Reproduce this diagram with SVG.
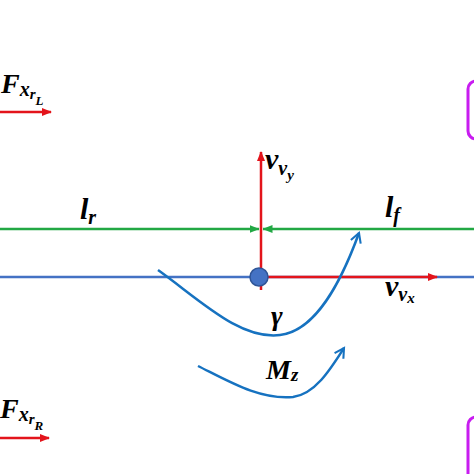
<svg xmlns="http://www.w3.org/2000/svg" width="474" height="474" viewBox="0 0 474 474">
<style>
.t{font-family:"Liberation Serif","DejaVu Serif",serif;font-weight:bold;font-style:italic;fill:#000}
.red{stroke:#e3141b;stroke-width:2.5;fill:none}
.grn{stroke:#22a844;stroke-width:2.5;fill:none}
.blu{stroke:#4472c4;stroke-width:2.5;fill:none}
.cur{stroke:#1672c0;stroke-width:2.5;fill:none}
.box{stroke:#c81cf0;stroke-width:3;fill:#fff}
</style>
<defs>
<marker id="ar" viewBox="0 0 10 10" refX="9" refY="5" markerWidth="4" markerHeight="4" orient="auto" markerUnits="strokeWidth"><path d="M0,1 L10,5 L0,9 Z" fill="#e3141b"/></marker>
<marker id="ag" viewBox="0 0 10 10" refX="9.5" refY="5" markerWidth="4" markerHeight="4" orient="auto" markerUnits="strokeWidth"><path d="M0,1 L10,5 L0,9 Z" fill="#22a844"/></marker>
<marker id="ac" viewBox="0 0 12 12" refX="10" refY="6" markerWidth="5" markerHeight="5" orient="auto" markerUnits="strokeWidth"><path d="M1,1 L10,6 L1,11" fill="none" stroke="#1672c0" stroke-width="2"/></marker>
</defs>
<g id="connectors">
<line class="blu" x1="0" y1="277" x2="474" y2="277"/>
<line class="grn" x1="0" y1="229" x2="259" y2="229" marker-end="url(#ag)"/>
<line class="grn" x1="474" y1="229" x2="263" y2="229" marker-end="url(#ag)"/>
<line class="red" x1="261" y1="290" x2="261" y2="152" marker-end="url(#ar)"/>
<line class="red" x1="261" y1="277" x2="437" y2="277" marker-end="url(#ar)"/>
<line class="red" x1="0" y1="112" x2="51" y2="112" marker-end="url(#ar)"/>
<line class="red" x1="0" y1="438" x2="49" y2="438" marker-end="url(#ar)"/>
<path class="cur" d="M158,270 C200,300 240,340 280,335 C315,331 340,285 359,233" marker-end="url(#ac)"/>
<path class="cur" d="M198,366 C230,382 260,400 293,397 C315,394 330,370 344,348" marker-end="url(#ac)"/>
</g>
<g id="cg">
<circle cx="259" cy="277" r="9" fill="#4472c4" stroke="#2f5597" stroke-width="1.5"/>
</g>
<g id="box-top"><rect class="box" x="468" y="81" width="22" height="58" rx="8"/></g>
<g id="box-bottom"><rect class="box" x="468" y="417" width="22" height="80" rx="8"/></g>
<g id="labels">
<text class="t" x="1" y="93" font-size="28">F<tspan font-size="20" dy="3">x</tspan><tspan font-size="15" dy="3">r</tspan><tspan font-size="13" dy="6">L</tspan></text>
<text class="t" x="0" y="418" font-size="28">F<tspan font-size="20" dy="3">x</tspan><tspan font-size="15" dy="3">r</tspan><tspan font-size="13" dy="6">R</tspan></text>
<text class="t" x="265" y="169" font-size="30">v<tspan font-size="20" dy="6">v</tspan><tspan font-size="15" dy="5">y</tspan></text>
<text class="t" x="385" y="296" font-size="30">v<tspan font-size="20" dy="5">v</tspan><tspan font-size="15" dy="2">x</tspan></text>
<text class="t" x="80" y="219" font-size="30">l<tspan font-size="20" dy="5">r</tspan></text>
<text class="t" x="385" y="217" font-size="30">l<tspan font-size="20" dy="5">f</tspan></text>
<text class="t" x="271" y="325" font-size="28">γ</text>
<text class="t" x="266" y="379" font-size="28">M<tspan font-size="19" dy="2">z</tspan></text>
</g>
</svg>
